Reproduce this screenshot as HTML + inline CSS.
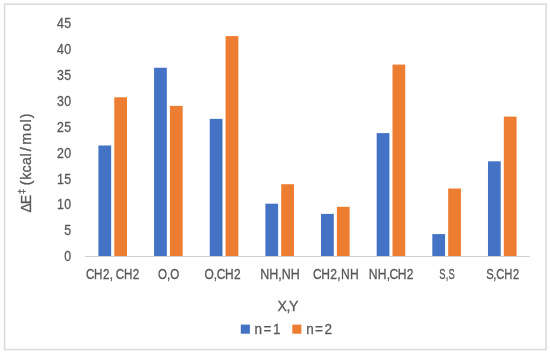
<!DOCTYPE html>
<html><head><meta charset="utf-8"><title>chart</title>
<style>
html,body{margin:0;padding:0;background:#fff;}
svg{display:block;}
text{font-family:"Liberation Sans",sans-serif;fill:#595959;stroke:#595959;stroke-width:0.3px;}
</style></head><body>
<svg width="550" height="355" viewBox="0 0 550 355">
<rect x="0" y="0" width="550" height="355" fill="#ffffff"/>
<rect x="4.6" y="4.1" width="541.5" height="345.4" fill="none" stroke="#dcdcdc" stroke-width="1.6"/>
<line x1="84.8" y1="256.5" x2="530.0" y2="256.5" stroke="#cfcfcf" stroke-width="1"/>
<rect x="98.42" y="145.5" width="12.75" height="110.50" fill="#4472c4"/>
<rect x="114.28" y="97.3" width="12.75" height="158.70" fill="#ed7d31"/>
<text transform="scale(0.8387,1)" x="102.43 112.15 122.72 130.95 134.92 138.06 147.78 158.35" y="279.3" font-size="13.9">CH2, CH2</text>
<rect x="154.07" y="67.75" width="12.75" height="188.25" fill="#4472c4"/>
<rect x="169.92" y="105.9" width="12.75" height="150.10" fill="#ed7d31"/>
<text transform="scale(0.8329,1)" x="189.63 200.49 204.40" y="279.3" font-size="13.9">O,O</text>
<rect x="209.73" y="118.9" width="12.75" height="137.10" fill="#4472c4"/>
<rect x="225.58" y="36.1" width="12.75" height="219.90" fill="#ed7d31"/>
<text transform="scale(0.8589,1)" x="238.01 249.00 252.28 261.90 272.38" y="279.3" font-size="13.9">O,CH2</text>
<rect x="265.38" y="203.7" width="12.75" height="52.30" fill="#4472c4"/>
<rect x="281.22" y="184.2" width="12.75" height="71.80" fill="#ed7d31"/>
<text transform="scale(0.9004,1)" x="288.96 298.98 308.96 312.94 322.96" y="279.3" font-size="13.9">NH,NH</text>
<rect x="321.02" y="213.9" width="12.75" height="42.10" fill="#4472c4"/>
<rect x="336.87" y="206.8" width="12.75" height="49.20" fill="#ed7d31"/>
<text transform="scale(0.8691,1)" x="360.23 369.71 380.06 388.15 392.33 402.65" y="279.3" font-size="13.9">CH2,NH</text>
<rect x="376.68" y="133.1" width="12.75" height="122.90" fill="#4472c4"/>
<rect x="392.52" y="64.6" width="12.75" height="191.40" fill="#ed7d31"/>
<text transform="scale(0.8721,1)" x="422.90 433.21 443.40 446.59 456.08 466.43" y="279.3" font-size="13.9">NH,CH2</text>
<rect x="432.32" y="234.1" width="12.75" height="21.90" fill="#4472c4"/>
<rect x="448.17" y="188.5" width="12.75" height="67.50" fill="#ed7d31"/>
<text transform="scale(0.6714,1)" x="654.40 663.90 668.00" y="279.3" font-size="13.9">S,S</text>
<rect x="487.98" y="161.3" width="12.75" height="94.70" fill="#4472c4"/>
<rect x="503.82" y="116.6" width="12.75" height="139.40" fill="#ed7d31"/>
<text transform="scale(0.8047,1)" x="604.22 613.04 616.62 626.68 637.59" y="279.3" font-size="13.9">S,CH2</text>
<text transform="scale(0.86,1)" font-size="14.4" y="261.30" x="74.72">0</text>
<text transform="scale(0.86,1)" font-size="14.4" y="235.40" x="74.73">5</text>
<text transform="scale(0.86,1)" font-size="14.4" y="209.50" x="66.15 74.72">10</text>
<text transform="scale(0.86,1)" font-size="14.4" y="183.60" x="66.15 74.73">15</text>
<text transform="scale(0.86,1)" font-size="14.4" y="157.70" x="66.34 74.72">20</text>
<text transform="scale(0.86,1)" font-size="14.4" y="131.80" x="66.34 74.73">25</text>
<text transform="scale(0.86,1)" font-size="14.4" y="105.90" x="66.39 74.72">30</text>
<text transform="scale(0.86,1)" font-size="14.4" y="80.00" x="66.39 74.73">35</text>
<text transform="scale(0.86,1)" font-size="14.4" y="54.10" x="66.39 74.72">40</text>
<text transform="scale(0.86,1)" font-size="14.4" y="28.20" x="66.39 74.73">45</text>
<text transform="translate(31.0,0) rotate(-90) scale(0.95,1)" font-size="15.0" x="-223.69 -215.08" y="0">ΔE<tspan font-size="9.8" x="-204.14" dy="-6.1">‡</tspan><tspan x="-199.98 -194.92 -189.16 -181.61 -173.62 -164.83 -159.19 -152.41 -138.07 -128.93 -124.55" dy="6.1"> (kcal/mol)</tspan></text>
<text transform="scale(0.94,1)" font-size="15.0" y="311.2" x="295.25 304.72 307.44">X,Y</text>
<rect x="240.8" y="324.6" width="9.1" height="9.1" fill="#4472c4"/>
<text transform="scale(0.92,1)" font-size="14.7" y="334.1" x="276.72 286.42 296.80">n=1</text>
<rect x="292.3" y="324.6" width="9.1" height="9.1" fill="#ed7d31"/>
<text transform="scale(0.92,1)" font-size="14.7" y="334.1" x="332.80 342.45 352.81">n=2</text>
</svg>
</body></html>
